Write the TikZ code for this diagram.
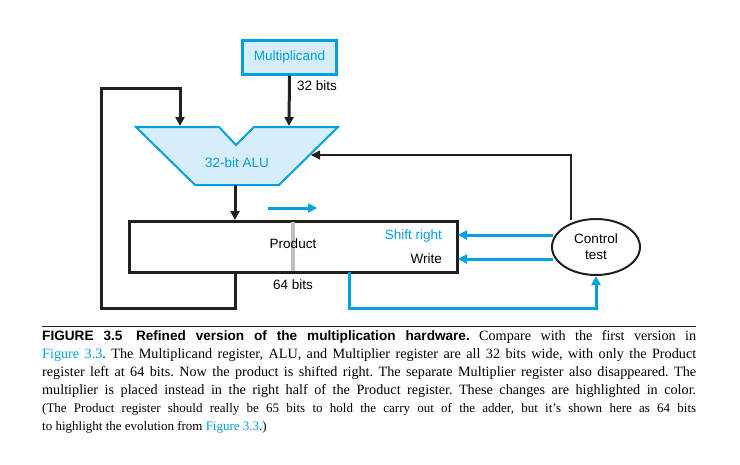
\documentclass[tikz,border=0pt]{standalone}
\usepackage{fontspec}
\setmainfont{Liberation Serif}
\setsansfont{Liberation Sans}
\usetikzlibrary{arrows.meta,shapes.geometric}
\definecolor{cb}{RGB}{0,160,226}
\definecolor{cfill}{RGB}{214,238,251}
\definecolor{dk}{RGB}{35,31,32}
\tikzset{
 blk/.style={draw=dk,line width=3pt},
 blu/.style={draw=cb,line width=3pt},
 ar/.style={-{Triangle[length=9pt,width=9pt]}},
 lab/.style={font=\sffamily\fontsize{13.5}{15}\selectfont,inner sep=0pt}
}
\frenchspacing
\begin{document}
\begin{tikzpicture}[x=1pt,y=-1pt]
\useasboundingbox (0,0) rectangle (740,464);
% multiplicand
\node[draw=cb,line width=3pt,fill=cfill,minimum width=94pt,minimum height=34pt,inner sep=0pt,lab,text=cb] (mc) at (289.5,57) {Multiplicand};
% ALU
\draw[draw=cb,line width=2pt,fill=cfill] (136,127) -- (219,127) -- (236,145) -- (254,127) -- (338,127) -- (279,185) -- (195,185) -- cycle;
\node[lab,text=cb] (alu) at (237,163) {32-bit ALU};
\coordinate (aluR) at (311,155);
\coordinate (aluL) at (180,126);
\coordinate (aluM) at (289,126);
% product
\node[draw=dk,line width=3pt,minimum width=328pt,minimum height=51pt,inner sep=0pt] (prod) at (293,246.5) {};
\fill[gray!50] (291,222) rectangle (295,271);
\node[lab] (ptxt) at (293,244) {Product};
\node[lab,text=cb,anchor=east] (sr) at (442,236) {Shift right};
\node[lab,anchor=east] (wr) at (442,259) {Write};
\node[lab] (b64) at (293,285) {64 bits};
\node[lab,anchor=west] (b32) at (297,86) {32 bits};
% control
\node[draw=dk,line width=2pt,ellipse,minimum width=88pt,minimum height=56pt,inner sep=0pt,align=center,lab] (ct) at (596,247) {Control\\[1pt]test};
% arrows
\draw[blk,ar] (mc.south) -- (aluM);
\draw[blk,ar] (235,185) -- (235,220);
\draw[blk,ar] (235,272) -- (235,308) -- (101,308) -- (101,88) -- (180,88) -- (aluL);
\draw[draw=dk,line width=1.3pt,ar] (571,220) -- (571,155) -- (aluR);
\draw[blu,ar] (268,208) -- (317,208);
\draw[blu,ar] (553,235) -- (458,235);
\draw[blu,ar] (553,259) -- (458,259);
\draw[blu,ar] (349,272) -- (349,308) -- (596,308) -- (ct.south);
% caption
\draw[dk,line width=0.8pt] (42,326) -- (696,326);
\node[anchor=north west,inner sep=0pt,text width=654pt,align=justify,font=\fontsize{14.2}{18}\selectfont] (cap) at (42,330) {%
{\sffamily\bfseries\fontsize{13.6}{18}\selectfont FIGURE 3.5\quad Refined version of the multiplication hardware.} Compare with the first version in\linebreak
\textcolor{cb}{Figure 3.3}. The Multiplicand register, ALU, and Multiplier register are all 32 bits wide, with only the Product\linebreak
register left at 64 bits. Now the product is shifted right. The separate Multiplier register also disappeared. The\linebreak
multiplier is placed instead in the right half of the Product register. These changes are highlighted in color.\linebreak
{\fontsize{13}{18}\selectfont (The Product register should really be 65 bits to hold the carry out of the adder, but it’s shown here as 64 bits\linebreak
to highlight the evolution from \textcolor{cb}{Figure 3.3}.)}\par};
\end{tikzpicture}
\end{document}
